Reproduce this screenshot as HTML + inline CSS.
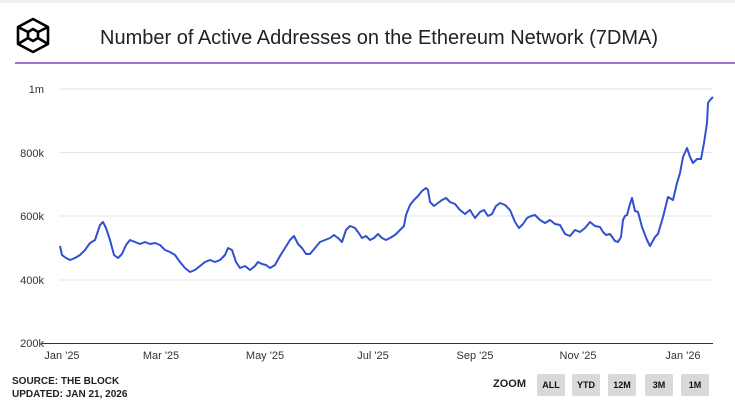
<!DOCTYPE html>
<html><head><meta charset="utf-8"><style>
body{margin:0;width:735px;height:412px;background:#fff;font-family:"Liberation Sans",sans-serif;overflow:hidden;position:relative}
.btn{position:absolute;top:374px;width:28px;height:22px;background:#d9d9d9;border-radius:2px;font-size:9px;font-weight:bold;text-align:center;line-height:22px;color:#111}
</style></head><body>
<div style="position:absolute;left:0;top:0;width:735px;height:3px;background:#f0f0f0"></div>
<svg width="735" height="412" style="position:absolute;left:0;top:0">
<g stroke="#000" stroke-width="2.6" fill="none" stroke-linejoin="round">
<polygon points="33,19 48,27 48,44 33,52 18,44 18,27"/>
<polygon points="33,29 38,32 38,38 33,41 28,38 28,32"/>
<line x1="18" y1="27" x2="28" y2="32"/><line x1="48" y1="27" x2="38" y2="32"/>
<line x1="18" y1="44" x2="28" y2="38"/><line x1="48" y1="44" x2="38" y2="38"/>
</g>
<line x1="15" y1="63" x2="735" y2="63" stroke="#8a3fc4" stroke-width="1.5"/>
<g stroke="#e6e6e6" stroke-width="1">
<line x1="59" y1="89" x2="713" y2="89"/><line x1="59" y1="152.5" x2="713" y2="152.5"/>
<line x1="59" y1="216" x2="713" y2="216"/><line x1="59" y1="280" x2="713" y2="280"/>
</g>
<line x1="42" y1="343.5" x2="713" y2="343.5" stroke="#333" stroke-width="1"/>
<g font-size="11" fill="#333" text-anchor="end">
<text x="44" y="93">1m</text><text x="44" y="157">800k</text><text x="44" y="220">600k</text><text x="44" y="284">400k</text><text x="44" y="347">200k</text>
</g>
<g font-size="11" fill="#333" text-anchor="middle">
<text x="62" y="359">Jan '25</text><text x="161" y="359">Mar '25</text><text x="265" y="359">May '25</text><text x="373" y="359">Jul '25</text><text x="475" y="359">Sep '25</text><text x="578" y="359">Nov '25</text><text x="683" y="359">Jan '26</text>
</g>
<polyline fill="none" stroke="#3050d0" stroke-width="2" stroke-linejoin="round" points="60,246 62,255 66,258 70,260 75,258 80,255 85,250 90,243 95,240 100,225 103,222 106,228 110,240 114,255 118,258 122,254 126,245 130,240 135,242 140,244 145,242 150,244 155,243 160,245 165,250 170,252 175,255 180,262 185,268 190,272 195,270 200,266 205,262 210,260 215,262 220,260 225,255 228,248 232,250 236,262 240,268 245,266 250,270 255,266 258,262 262,264 266,265 270,268 275,265 280,256 285,248 290,240 294,236 298,244 302,248 306,254 310,254 315,248 320,242 325,240 330,238 334,235 338,238 342,242 346,230 350,226 355,228 358,232 362,238 366,236 370,240 374,238 378,234 382,238 386,240 390,238 395,235 400,230 404,226 406,215 410,205 414,200 418,196 422,191 426,188 428,190 430,202 434,206 438,203 442,200 446,198 450,202 455,204 460,210 465,214 470,210 475,218 480,212 484,210 488,216 492,214 496,206 500,203 505,205 510,210 515,222 519,228 523,224 527,218 531,216 535,215 540,220 545,223 550,220 555,224 560,225 565,234 570,236 575,230 580,232 585,228 590,222 595,226 600,227 603,232 606,235 610,234 615,241 618,242 621,237 623,220 625,216 627,215 630,204 632,198 635,211 638,212 642,227 647,240 650,246 655,237 658,234 663,217 668,197 673,200 677,183 680,173 683,157 687,148 690,157 693,163 697,159 701,159 704,143 707,123 708,103 710,100 713,97"/>
</svg>
<div style="position:absolute;left:100px;top:27px;font-size:20px;color:#222">Number of Active Addresses on the Ethereum Network (7DMA)</div>
<div style="position:absolute;left:12px;top:375px;font-size:10px;font-weight:bold;color:#222;line-height:13px">SOURCE: THE BLOCK<br>UPDATED: JAN 21, 2026</div>
<div style="position:absolute;left:493px;top:378px;font-size:11px;font-weight:bold;color:#222">ZOOM</div>
<div class="btn" style="left:380px;display:none"></div>
<div class="btn" style="left:537px">ALL</div>
<div class="btn" style="left:572px">YTD</div>
<div class="btn" style="left:608px">12M</div>
<div class="btn" style="left:645px">3M</div>
<div class="btn" style="left:681px">1M</div>
</body></html>
